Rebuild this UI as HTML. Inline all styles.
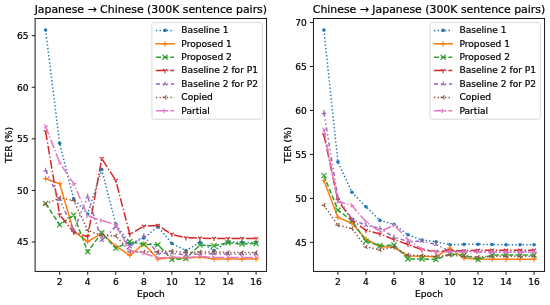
<!DOCTYPE html>
<html lang="en"><head><meta charset="utf-8"><title>TER vs Epoch</title>
<style>html,body{margin:0;padding:0;background:#fff}body{width:550px;height:305px;overflow:hidden}svg{display:block}text{font-family:"DejaVu Sans","Liberation Sans",sans-serif;stroke:#000;stroke-width:.22px}</style>
</head><body>
<svg width="550" height="305" viewBox="0 0 550 305" font-family="'DejaVu Sans', 'Liberation Sans', sans-serif" fill="#000" stroke-linejoin="round">
<rect width="550" height="305" fill="#fff"/>
<g>
<clipPath id="cL"><rect x="35.1" y="18.5" width="231.5" height="252.9"/></clipPath>
<g clip-path="url(#cL)">
<path d="M45.62 30.03L59.65 143.37L73.68 198.9L87.71 214.03L101.74 169.6L115.77 224.11L129.8 243.86L143.83 237.99L157.87 226.68L171.9 243.45L185.93 250.54L199.96 242.31L213.99 250.54L228.02 242L242.05 242.31L256.08 242.62" fill="none" stroke="#1f77b4" stroke-width="1.5" stroke-linejoin="round" stroke-linecap="butt" stroke-dasharray="1.36,2.25"/>
<circle cx="45.62" cy="30.03" r="1.8" fill="#1f77b4"/>
<circle cx="59.65" cy="143.37" r="1.8" fill="#1f77b4"/>
<circle cx="73.68" cy="198.9" r="1.8" fill="#1f77b4"/>
<circle cx="87.71" cy="214.03" r="1.8" fill="#1f77b4"/>
<circle cx="101.74" cy="169.6" r="1.8" fill="#1f77b4"/>
<circle cx="115.77" cy="224.11" r="1.8" fill="#1f77b4"/>
<circle cx="129.8" cy="243.86" r="1.8" fill="#1f77b4"/>
<circle cx="143.83" cy="237.99" r="1.8" fill="#1f77b4"/>
<circle cx="157.87" cy="226.68" r="1.8" fill="#1f77b4"/>
<circle cx="171.9" cy="243.45" r="1.8" fill="#1f77b4"/>
<circle cx="185.93" cy="250.54" r="1.8" fill="#1f77b4"/>
<circle cx="199.96" cy="242.31" r="1.8" fill="#1f77b4"/>
<circle cx="213.99" cy="250.54" r="1.8" fill="#1f77b4"/>
<circle cx="228.02" cy="242" r="1.8" fill="#1f77b4"/>
<circle cx="242.05" cy="242.31" r="1.8" fill="#1f77b4"/>
<circle cx="256.08" cy="242.62" r="1.8" fill="#1f77b4"/>
<path d="M45.62 178.55L59.65 183.68L73.68 231.3L87.71 241.59L101.74 233.37L115.77 246.22L129.8 255.48L143.83 243.65L157.87 259.08L171.9 257.64L185.93 258.25L199.96 257.02L213.99 259.08L228.02 259.08L242.05 259.08L256.08 259.08" fill="none" stroke="#ff7f0e" stroke-width="1.5" stroke-linejoin="round" stroke-linecap="square"/>
<path d="M43.02 178.55H48.22M45.62 175.95V181.15M57.05 183.68H62.25M59.65 181.08V186.28M71.08 231.3H76.28M73.68 228.7V233.9M85.11 241.59H90.31M87.71 238.99V244.19M99.14 233.37H104.34M101.74 230.77V235.97M113.17 246.22H118.37M115.77 243.62V248.82M127.2 255.48H132.4M129.8 252.88V258.08M141.23 243.65H146.43M143.83 241.05V246.25M155.27 259.08H160.47M157.87 256.48V261.68M169.3 257.64H174.5M171.9 255.04V260.24M183.33 258.25H188.53M185.93 255.65V260.85M197.36 257.02H202.56M199.96 254.42V259.62M211.39 259.08H216.59M213.99 256.48V261.68M225.42 259.08H230.62M228.02 256.48V261.68M239.45 259.08H244.65M242.05 256.48V261.68M253.48 259.08H258.68M256.08 256.48V261.68" fill="none" stroke="#ff7f0e" stroke-width="1.15" stroke-linecap="butt"/>
<path d="M45.62 203.54L59.65 224.73L73.68 215.05L87.71 251.67L101.74 232.75L115.77 248.28L129.8 241.59L143.83 244.47L157.87 244.68L171.9 259.6L185.93 258.56L199.96 244.99L213.99 245.81L228.02 242.83L242.05 244.06L256.08 243.45" fill="none" stroke="#2ca02c" stroke-width="1.5" stroke-linejoin="round" stroke-linecap="butt" stroke-dasharray="5.04,2.18"/>
<path d="M43.02 200.94L48.22 206.14M43.02 206.14L48.22 200.94M57.05 222.13L62.25 227.33M57.05 227.33L62.25 222.13M71.08 212.45L76.28 217.65M71.08 217.65L76.28 212.45M85.11 249.07L90.31 254.27M85.11 254.27L90.31 249.07M99.14 230.15L104.34 235.35M99.14 235.35L104.34 230.15M113.17 245.68L118.37 250.88M113.17 250.88L118.37 245.68M127.2 238.99L132.4 244.19M127.2 244.19L132.4 238.99M141.23 241.87L146.43 247.07M141.23 247.07L146.43 241.87M155.27 242.08L160.47 247.28M155.27 247.28L160.47 242.08M169.3 257L174.5 262.2M169.3 262.2L174.5 257M183.33 255.96L188.53 261.16M183.33 261.16L188.53 255.96M197.36 242.39L202.56 247.59M197.36 247.59L202.56 242.39M211.39 243.21L216.59 248.41M211.39 248.41L216.59 243.21M225.42 240.23L230.62 245.43M225.42 245.43L230.62 240.23M239.45 241.46L244.65 246.66M239.45 246.66L244.65 241.46M253.48 240.85L258.68 246.05M253.48 246.05L258.68 240.85" fill="none" stroke="#2ca02c" stroke-width="1.15" stroke-linecap="butt"/>
<path d="M45.62 131.54L59.65 214.86L73.68 232.34L87.71 236.66L101.74 158.49L115.77 180.4L129.8 234.39L143.83 226.16L157.87 225.34L171.9 234.39L185.93 237.78L199.96 238.09L213.99 238.51L228.02 238.51L242.05 238.51L256.08 238.51" fill="none" stroke="#d62728" stroke-width="1.5" stroke-linejoin="round" stroke-linecap="butt" stroke-dasharray="8.72,2.18,1.36,2.18"/>
<path d="M45.62 131.54V134.14M45.62 131.54L47.7 130.24M45.62 131.54L43.54 130.24M59.65 214.86V217.46M59.65 214.86L61.73 213.56M59.65 214.86L57.57 213.56M73.68 232.34V234.94M73.68 232.34L75.76 231.04M73.68 232.34L71.6 231.04M87.71 236.66V239.26M87.71 236.66L89.79 235.36M87.71 236.66L85.63 235.36M101.74 158.49V161.09M101.74 158.49L103.82 157.19M101.74 158.49L99.66 157.19M115.77 180.4V183M115.77 180.4L117.85 179.1M115.77 180.4L113.69 179.1M129.8 234.39V236.99M129.8 234.39L131.88 233.09M129.8 234.39L127.72 233.09M143.83 226.16V228.76M143.83 226.16L145.91 224.86M143.83 226.16L141.75 224.86M157.87 225.34V227.94M157.87 225.34L159.95 224.04M157.87 225.34L155.79 224.04M171.9 234.39V236.99M171.9 234.39L173.98 233.09M171.9 234.39L169.82 233.09M185.93 237.78V240.38M185.93 237.78L188.01 236.48M185.93 237.78L183.85 236.48M199.96 238.09V240.69M199.96 238.09L202.04 236.79M199.96 238.09L197.88 236.79M213.99 238.51V241.11M213.99 238.51L216.07 237.21M213.99 238.51L211.91 237.21M228.02 238.51V241.11M228.02 238.51L230.1 237.21M228.02 238.51L225.94 237.21M242.05 238.51V241.11M242.05 238.51L244.13 237.21M242.05 238.51L239.97 237.21M256.08 238.51V241.11M256.08 238.51L258.16 237.21M256.08 238.51L254 237.21" fill="none" stroke="#d62728" stroke-width="1.15" stroke-linecap="butt"/>
<path d="M45.62 170.31L59.65 199.42L73.68 230.49L87.71 196.33L101.74 240.36L115.77 226.68L129.8 246.74L143.83 235.73L157.87 253.43L171.9 253.12L185.93 254.86L199.96 253.74L213.99 253.74L228.02 254.14L242.05 254.14L256.08 254.14" fill="none" stroke="#9467bd" stroke-width="1.5" stroke-linejoin="round" stroke-linecap="butt" stroke-dasharray="4.09,2.73,1.36,2.73,1.36,2.73"/>
<path d="M45.62 170.31V167.71M45.62 170.31L47.7 171.61M45.62 170.31L43.54 171.61M59.65 199.42V196.82M59.65 199.42L61.73 200.72M59.65 199.42L57.57 200.72M73.68 230.49V227.89M73.68 230.49L75.76 231.79M73.68 230.49L71.6 231.79M87.71 196.33V193.73M87.71 196.33L89.79 197.63M87.71 196.33L85.63 197.63M101.74 240.36V237.76M101.74 240.36L103.82 241.66M101.74 240.36L99.66 241.66M115.77 226.68V224.08M115.77 226.68L117.85 227.98M115.77 226.68L113.69 227.98M129.8 246.74V244.14M129.8 246.74L131.88 248.04M129.8 246.74L127.72 248.04M143.83 235.73V233.13M143.83 235.73L145.91 237.03M143.83 235.73L141.75 237.03M157.87 253.43V250.83M157.87 253.43L159.95 254.73M157.87 253.43L155.79 254.73M171.9 253.12V250.52M171.9 253.12L173.98 254.42M171.9 253.12L169.82 254.42M185.93 254.86V252.26M185.93 254.86L188.01 256.16M185.93 254.86L183.85 256.16M199.96 253.74V251.14M199.96 253.74L202.04 255.04M199.96 253.74L197.88 255.04M213.99 253.74V251.14M213.99 253.74L216.07 255.04M213.99 253.74L211.91 255.04M228.02 254.14V251.54M228.02 254.14L230.1 255.44M228.02 254.14L225.94 255.44M242.05 254.14V251.54M242.05 254.14L244.13 255.44M242.05 254.14L239.97 255.44M256.08 254.14V251.54M256.08 254.14L258.16 255.44M256.08 254.14L254 255.44" fill="none" stroke="#9467bd" stroke-width="1.15" stroke-linecap="butt"/>
<path d="M45.62 204.05L59.65 197.88L73.68 200.45L87.71 230.28L101.74 235.73L115.77 235.73L129.8 251.36L143.83 251.98L157.87 251.57L171.9 251.05L185.93 252.6L199.96 251.98L213.99 251.98L228.02 252.6L242.05 252.6L256.08 252.6" fill="none" stroke="#8c564b" stroke-width="1.5" stroke-linejoin="round" stroke-linecap="butt" stroke-dasharray="1.36,2.25"/>
<path d="M45.62 204.05H43.02M45.62 204.05L46.92 206.13M45.62 204.05L46.92 201.97M59.65 197.88H57.05M59.65 197.88L60.95 199.96M59.65 197.88L60.95 195.8M73.68 200.45H71.08M73.68 200.45L74.98 202.53M73.68 200.45L74.98 198.37M87.71 230.28H85.11M87.71 230.28L89.01 232.36M87.71 230.28L89.01 228.2M101.74 235.73H99.14M101.74 235.73L103.04 237.81M101.74 235.73L103.04 233.65M115.77 235.73H113.17M115.77 235.73L117.07 237.81M115.77 235.73L117.07 233.65M129.8 251.36H127.2M129.8 251.36L131.1 253.44M129.8 251.36L131.1 249.28M143.83 251.98H141.23M143.83 251.98L145.13 254.06M143.83 251.98L145.13 249.9M157.87 251.57H155.27M157.87 251.57L159.17 253.65M157.87 251.57L159.17 249.49M171.9 251.05H169.3M171.9 251.05L173.2 253.13M171.9 251.05L173.2 248.97M185.93 252.6H183.33M185.93 252.6L187.23 254.68M185.93 252.6L187.23 250.52M199.96 251.98H197.36M199.96 251.98L201.26 254.06M199.96 251.98L201.26 249.9M213.99 251.98H211.39M213.99 251.98L215.29 254.06M213.99 251.98L215.29 249.9M228.02 252.6H225.42M228.02 252.6L229.32 254.68M228.02 252.6L229.32 250.52M242.05 252.6H239.45M242.05 252.6L243.35 254.68M242.05 252.6L243.35 250.52M256.08 252.6H253.48M256.08 252.6L257.38 254.68M256.08 252.6L257.38 250.52" fill="none" stroke="#8c564b" stroke-width="1.15" stroke-linecap="butt"/>
<path d="M45.62 126.4L59.65 162.71L73.68 183.68L87.71 215.88L101.74 220.51L115.77 224.62L129.8 250.85L143.83 253.22L157.87 258.05L171.9 257.02L185.93 257.74L199.96 256.41L213.99 257.43L228.02 257.43L242.05 257.43L256.08 257.43" fill="none" stroke="#e377c2" stroke-width="1.5" stroke-linejoin="round" stroke-linecap="butt" stroke-dasharray="8.72,2.18,1.36,2.18"/>
<path d="M45.62 126.4H48.22M45.62 126.4L44.32 128.48M45.62 126.4L44.32 124.32M59.65 162.71H62.25M59.65 162.71L58.35 164.79M59.65 162.71L58.35 160.63M73.68 183.68H76.28M73.68 183.68L72.38 185.76M73.68 183.68L72.38 181.6M87.71 215.88H90.31M87.71 215.88L86.41 217.96M87.71 215.88L86.41 213.8M101.74 220.51H104.34M101.74 220.51L100.44 222.59M101.74 220.51L100.44 218.43M115.77 224.62H118.37M115.77 224.62L114.47 226.7M115.77 224.62L114.47 222.54M129.8 250.85H132.4M129.8 250.85L128.5 252.93M129.8 250.85L128.5 248.77M143.83 253.22H146.43M143.83 253.22L142.53 255.3M143.83 253.22L142.53 251.14M157.87 258.05H160.47M157.87 258.05L156.57 260.13M157.87 258.05L156.57 255.97M171.9 257.02H174.5M171.9 257.02L170.6 259.1M171.9 257.02L170.6 254.94M185.93 257.74H188.53M185.93 257.74L184.63 259.82M185.93 257.74L184.63 255.66M199.96 256.41H202.56M199.96 256.41L198.66 258.49M199.96 256.41L198.66 254.33M213.99 257.43H216.59M213.99 257.43L212.69 259.51M213.99 257.43L212.69 255.35M228.02 257.43H230.62M228.02 257.43L226.72 259.51M228.02 257.43L226.72 255.35M242.05 257.43H244.65M242.05 257.43L240.75 259.51M242.05 257.43L240.75 255.35M256.08 257.43H258.68M256.08 257.43L254.78 259.51M256.08 257.43L254.78 255.35" fill="none" stroke="#e377c2" stroke-width="1.15" stroke-linecap="butt"/>
</g>
<path d="M59.65 271.4v3.4M87.71 271.4v3.4M115.77 271.4v3.4M143.83 271.4v3.4M171.9 271.4v3.4M199.96 271.4v3.4M228.02 271.4v3.4M256.08 271.4v3.4M35.1 241.99h-3.4M35.1 190.4h-3.4M35.1 138.81h-3.4M35.1 87.22h-3.4M35.1 35.63h-3.4" stroke="#000" stroke-width="0.9" fill="none"/>
<rect x="35.1" y="18.5" width="231.5" height="252.9" fill="none" stroke="#000" stroke-width="0.9" stroke-linejoin="miter"/>
<text x="59.65" y="285.1" text-anchor="middle" font-size="9.08">2</text>
<text x="87.71" y="285.1" text-anchor="middle" font-size="9.08">4</text>
<text x="115.77" y="285.1" text-anchor="middle" font-size="9.08">6</text>
<text x="143.83" y="285.1" text-anchor="middle" font-size="9.08">8</text>
<text x="171.9" y="285.1" text-anchor="middle" font-size="9.08">10</text>
<text x="199.96" y="285.1" text-anchor="middle" font-size="9.08">12</text>
<text x="228.02" y="285.1" text-anchor="middle" font-size="9.08">14</text>
<text x="256.08" y="285.1" text-anchor="middle" font-size="9.08">16</text>
<text x="28.45" y="245.3" text-anchor="end" font-size="9.08">45</text>
<text x="28.45" y="193.71" text-anchor="end" font-size="9.08">50</text>
<text x="28.45" y="142.12" text-anchor="end" font-size="9.08">55</text>
<text x="28.45" y="90.53" text-anchor="end" font-size="9.08">60</text>
<text x="28.45" y="38.94" text-anchor="end" font-size="9.08">65</text>
<text x="150.85" y="297.4" text-anchor="middle" font-size="9.08">Epoch</text>
<text transform="translate(12.3 144.95) rotate(-90)" text-anchor="middle" font-size="9.08">TER (%)</text>
<text x="150.85" y="12.5" text-anchor="middle" font-size="10.9">Japanese → Chinese (300K sentence pairs)</text>
<rect x="151.9" y="22.6" width="110.5" height="96.6" rx="1.82" fill="#fff" fill-opacity="0.8" stroke="#ccc" stroke-opacity="0.8" stroke-width="0.91"/>
<path d="M155.93 30.4H174.1" fill="none" stroke="#1f77b4" stroke-width="1.5" stroke-dasharray="1.36,2.25" stroke-linecap="butt"/>
<circle cx="165.02" cy="30.4" r="1.8" fill="#1f77b4"/>
<text x="181.37" y="33.28" font-size="9.08">Baseline 1</text>
<path d="M155.93 43.8H174.1" fill="none" stroke="#ff7f0e" stroke-width="1.5" stroke-linecap="square"/>
<path d="M162.42 43.8H167.62M165.02 41.2V46.4" fill="none" stroke="#ff7f0e" stroke-width="1.15"/>
<text x="181.37" y="46.68" font-size="9.08">Proposed 1</text>
<path d="M155.93 57.2H174.1" fill="none" stroke="#2ca02c" stroke-width="1.5" stroke-dasharray="5.04,2.18" stroke-linecap="butt"/>
<path d="M162.42 54.6L167.62 59.8M162.42 59.8L167.62 54.6" fill="none" stroke="#2ca02c" stroke-width="1.15"/>
<text x="181.37" y="60.08" font-size="9.08">Proposed 2</text>
<path d="M155.93 70.6H174.1" fill="none" stroke="#d62728" stroke-width="1.5" stroke-dasharray="8.72,2.18,1.36,2.18" stroke-linecap="butt"/>
<path d="M165.02 70.6V73.2M165.02 70.6L167.1 69.3M165.02 70.6L162.94 69.3" fill="none" stroke="#d62728" stroke-width="1.15"/>
<text x="181.37" y="73.48" font-size="9.08">Baseline 2 for P1</text>
<path d="M155.93 84H174.1" fill="none" stroke="#9467bd" stroke-width="1.5" stroke-dasharray="4.09,2.73,1.36,2.73,1.36,2.73" stroke-linecap="butt"/>
<path d="M165.02 84V81.4M165.02 84L167.1 85.3M165.02 84L162.94 85.3" fill="none" stroke="#9467bd" stroke-width="1.15"/>
<text x="181.37" y="86.88" font-size="9.08">Baseline 2 for P2</text>
<path d="M155.93 97.4H174.1" fill="none" stroke="#8c564b" stroke-width="1.5" stroke-dasharray="1.36,2.25" stroke-linecap="butt"/>
<path d="M165.02 97.4H162.42M165.02 97.4L166.32 99.48M165.02 97.4L166.32 95.32" fill="none" stroke="#8c564b" stroke-width="1.15"/>
<text x="181.37" y="100.28" font-size="9.08">Copied</text>
<path d="M155.93 110.8H174.1" fill="none" stroke="#e377c2" stroke-width="1.5" stroke-dasharray="8.72,2.18,1.36,2.18" stroke-linecap="butt"/>
<path d="M165.02 110.8H167.62M165.02 110.8L163.72 112.88M165.02 110.8L163.72 108.72" fill="none" stroke="#e377c2" stroke-width="1.15"/>
<text x="181.37" y="113.68" font-size="9.08">Partial</text>
</g>
<g>
<clipPath id="cR"><rect x="313.4" y="18.5" width="231.2" height="252.9"/></clipPath>
<g clip-path="url(#cR)">
<path d="M323.91 30.05L337.92 161.91L351.93 192.27L365.95 206.74L379.96 220.42L393.97 224.39L407.98 234.81L421.99 239.93L436.01 241.87L450.02 244.69L464.03 244.34L478.04 244.34L492.05 244.52L506.07 244.78L520.08 244.78L534.09 244.78" fill="none" stroke="#1f77b4" stroke-width="1.5" stroke-linejoin="round" stroke-linecap="butt" stroke-dasharray="1.36,2.25"/>
<circle cx="323.91" cy="30.05" r="1.8" fill="#1f77b4"/>
<circle cx="337.92" cy="161.91" r="1.8" fill="#1f77b4"/>
<circle cx="351.93" cy="192.27" r="1.8" fill="#1f77b4"/>
<circle cx="365.95" cy="206.74" r="1.8" fill="#1f77b4"/>
<circle cx="379.96" cy="220.42" r="1.8" fill="#1f77b4"/>
<circle cx="393.97" cy="224.39" r="1.8" fill="#1f77b4"/>
<circle cx="407.98" cy="234.81" r="1.8" fill="#1f77b4"/>
<circle cx="421.99" cy="239.93" r="1.8" fill="#1f77b4"/>
<circle cx="436.01" cy="241.87" r="1.8" fill="#1f77b4"/>
<circle cx="450.02" cy="244.69" r="1.8" fill="#1f77b4"/>
<circle cx="464.03" cy="244.34" r="1.8" fill="#1f77b4"/>
<circle cx="478.04" cy="244.34" r="1.8" fill="#1f77b4"/>
<circle cx="492.05" cy="244.52" r="1.8" fill="#1f77b4"/>
<circle cx="506.07" cy="244.78" r="1.8" fill="#1f77b4"/>
<circle cx="520.08" cy="244.78" r="1.8" fill="#1f77b4"/>
<circle cx="534.09" cy="244.78" r="1.8" fill="#1f77b4"/>
<path d="M323.91 180.7L337.92 217.33L351.93 223.25L365.95 239.22L379.96 246.45L393.97 247.17L407.98 255.99L421.99 256.34L436.01 256.87L450.02 248.04L464.03 258.19L478.04 258.9L492.05 259.17L506.07 259.34L520.08 259.34L534.09 259.34" fill="none" stroke="#ff7f0e" stroke-width="1.5" stroke-linejoin="round" stroke-linecap="square"/>
<path d="M321.31 180.7H326.51M323.91 178.1V183.3M335.32 217.33H340.52M337.92 214.73V219.93M349.33 223.25H354.53M351.93 220.65V225.85M363.35 239.22H368.55M365.95 236.62V241.82M377.36 246.45H382.56M379.96 243.85V249.05M391.37 247.17H396.57M393.97 244.57V249.77M405.38 255.99H410.58M407.98 253.39V258.59M419.39 256.34H424.59M421.99 253.74V258.94M433.41 256.87H438.61M436.01 254.27V259.47M447.42 248.04H452.62M450.02 245.44V250.64M461.43 258.19H466.63M464.03 255.59V260.79M475.44 258.9H480.64M478.04 256.3V261.5M489.45 259.17H494.65M492.05 256.57V261.77M503.47 259.34H508.67M506.07 256.74V261.94M517.48 259.34H522.68M520.08 256.74V261.94M531.49 259.34H536.69M534.09 256.74V261.94" fill="none" stroke="#ff7f0e" stroke-width="1.15" stroke-linecap="butt"/>
<path d="M323.91 175.5L337.92 210.09L351.93 220.69L365.95 241.16L379.96 245.84L393.97 245.13L407.98 258.9L421.99 258.9L436.01 259.52L450.02 253.78L464.03 255.11L478.04 259.52L492.05 255.11L506.07 255.02L520.08 255.02L534.09 255.02" fill="none" stroke="#2ca02c" stroke-width="1.5" stroke-linejoin="round" stroke-linecap="butt" stroke-dasharray="5.04,2.18"/>
<path d="M321.31 172.9L326.51 178.1M321.31 178.1L326.51 172.9M335.32 207.49L340.52 212.69M335.32 212.69L340.52 207.49M349.33 218.09L354.53 223.29M349.33 223.29L354.53 218.09M363.35 238.56L368.55 243.76M363.35 243.76L368.55 238.56M377.36 243.24L382.56 248.44M377.36 248.44L382.56 243.24M391.37 242.53L396.57 247.73M391.37 247.73L396.57 242.53M405.38 256.3L410.58 261.5M405.38 261.5L410.58 256.3M419.39 256.3L424.59 261.5M419.39 261.5L424.59 256.3M433.41 256.92L438.61 262.12M433.41 262.12L438.61 256.92M447.42 251.18L452.62 256.38M447.42 256.38L452.62 251.18M461.43 252.51L466.63 257.71M461.43 257.71L466.63 252.51M475.44 256.92L480.64 262.12M475.44 262.12L480.64 256.92M489.45 252.51L494.65 257.71M489.45 257.71L494.65 252.51M503.47 252.42L508.67 257.62M503.47 257.62L508.67 252.42M517.48 252.42L522.68 257.62M517.48 257.62L522.68 252.42M531.49 252.42L536.69 257.62M531.49 257.62L536.69 252.42" fill="none" stroke="#2ca02c" stroke-width="1.15" stroke-linecap="butt"/>
<path d="M323.91 134.73L337.92 200.38L351.93 219.8L365.95 230.4L379.96 233.92L393.97 239.58L407.98 244.52L421.99 249.81L436.01 251.58L450.02 250.69L464.03 250.69L478.04 250.25L492.05 250.16L506.07 250.16L520.08 250.16L534.09 250.16" fill="none" stroke="#d62728" stroke-width="1.5" stroke-linejoin="round" stroke-linecap="butt" stroke-dasharray="8.72,2.18,1.36,2.18"/>
<path d="M323.91 134.73V137.33M323.91 134.73L325.99 133.43M323.91 134.73L321.83 133.43M337.92 200.38V202.98M337.92 200.38L340 199.08M337.92 200.38L335.84 199.08M351.93 219.8V222.4M351.93 219.8L354.01 218.5M351.93 219.8L349.85 218.5M365.95 230.4V233M365.95 230.4L368.03 229.1M365.95 230.4L363.87 229.1M379.96 233.92V236.52M379.96 233.92L382.04 232.62M379.96 233.92L377.88 232.62M393.97 239.58V242.18M393.97 239.58L396.05 238.28M393.97 239.58L391.89 238.28M407.98 244.52V247.12M407.98 244.52L410.06 243.22M407.98 244.52L405.9 243.22M421.99 249.81V252.41M421.99 249.81L424.07 248.51M421.99 249.81L419.91 248.51M436.01 251.58V254.18M436.01 251.58L438.09 250.28M436.01 251.58L433.93 250.28M450.02 250.69V253.29M450.02 250.69L452.1 249.39M450.02 250.69L447.94 249.39M464.03 250.69V253.29M464.03 250.69L466.11 249.39M464.03 250.69L461.95 249.39M478.04 250.25V252.85M478.04 250.25L480.12 248.95M478.04 250.25L475.96 248.95M492.05 250.16V252.76M492.05 250.16L494.13 248.86M492.05 250.16L489.97 248.86M506.07 250.16V252.76M506.07 250.16L508.15 248.86M506.07 250.16L503.99 248.86M520.08 250.16V252.76M520.08 250.16L522.16 248.86M520.08 250.16L518 248.86M534.09 250.16V252.76M534.09 250.16L536.17 248.86M534.09 250.16L532.01 248.86" fill="none" stroke="#d62728" stroke-width="1.15" stroke-linecap="butt"/>
<path d="M323.91 112.66L337.92 197.56L351.93 219.27L365.95 225.37L379.96 228.36L393.97 237.19L407.98 241.42L421.99 241.25L436.01 244.52L450.02 251.13L464.03 251.58L478.04 251.58L492.05 252.02L506.07 252.02L520.08 252.02L534.09 252.02" fill="none" stroke="#9467bd" stroke-width="1.5" stroke-linejoin="round" stroke-linecap="butt" stroke-dasharray="4.09,2.73,1.36,2.73,1.36,2.73"/>
<path d="M323.91 112.66V110.06M323.91 112.66L325.99 113.96M323.91 112.66L321.83 113.96M337.92 197.56V194.96M337.92 197.56L340 198.86M337.92 197.56L335.84 198.86M351.93 219.27V216.67M351.93 219.27L354.01 220.57M351.93 219.27L349.85 220.57M365.95 225.37V222.77M365.95 225.37L368.03 226.67M365.95 225.37L363.87 226.67M379.96 228.36V225.76M379.96 228.36L382.04 229.66M379.96 228.36L377.88 229.66M393.97 237.19V234.59M393.97 237.19L396.05 238.49M393.97 237.19L391.89 238.49M407.98 241.42V238.82M407.98 241.42L410.06 242.72M407.98 241.42L405.9 242.72M421.99 241.25V238.65M421.99 241.25L424.07 242.55M421.99 241.25L419.91 242.55M436.01 244.52V241.92M436.01 244.52L438.09 245.82M436.01 244.52L433.93 245.82M450.02 251.13V248.53M450.02 251.13L452.1 252.43M450.02 251.13L447.94 252.43M464.03 251.58V248.98M464.03 251.58L466.11 252.88M464.03 251.58L461.95 252.88M478.04 251.58V248.98M478.04 251.58L480.12 252.88M478.04 251.58L475.96 252.88M492.05 252.02V249.42M492.05 252.02L494.13 253.32M492.05 252.02L489.97 253.32M506.07 252.02V249.42M506.07 252.02L508.15 253.32M506.07 252.02L503.99 253.32M520.08 252.02V249.42M520.08 252.02L522.16 253.32M520.08 252.02L518 253.32M534.09 252.02V249.42M534.09 252.02L536.17 253.32M534.09 252.02L532.01 253.32" fill="none" stroke="#9467bd" stroke-width="1.15" stroke-linecap="butt"/>
<path d="M323.91 205.24L337.92 225.19L351.93 228.45L365.95 246.99L379.96 249.81L393.97 247.17L407.98 255.11L421.99 255.63L436.01 256.34L450.02 255.28L464.03 256.34L478.04 256.87L492.05 256.34L506.07 256.34L520.08 256.34L534.09 256.34" fill="none" stroke="#8c564b" stroke-width="1.5" stroke-linejoin="round" stroke-linecap="butt" stroke-dasharray="1.36,2.25"/>
<path d="M323.91 205.24H321.31M323.91 205.24L325.21 207.32M323.91 205.24L325.21 203.16M337.92 225.19H335.32M337.92 225.19L339.22 227.27M337.92 225.19L339.22 223.11M351.93 228.45H349.33M351.93 228.45L353.23 230.53M351.93 228.45L353.23 226.37M365.95 246.99H363.35M365.95 246.99L367.25 249.07M365.95 246.99L367.25 244.91M379.96 249.81H377.36M379.96 249.81L381.26 251.89M379.96 249.81L381.26 247.73M393.97 247.17H391.37M393.97 247.17L395.27 249.25M393.97 247.17L395.27 245.09M407.98 255.11H405.38M407.98 255.11L409.28 257.19M407.98 255.11L409.28 253.03M421.99 255.63H419.39M421.99 255.63L423.29 257.71M421.99 255.63L423.29 253.55M436.01 256.34H433.41M436.01 256.34L437.31 258.42M436.01 256.34L437.31 254.26M450.02 255.28H447.42M450.02 255.28L451.32 257.36M450.02 255.28L451.32 253.2M464.03 256.34H461.43M464.03 256.34L465.33 258.42M464.03 256.34L465.33 254.26M478.04 256.87H475.44M478.04 256.87L479.34 258.95M478.04 256.87L479.34 254.79M492.05 256.34H489.45M492.05 256.34L493.35 258.42M492.05 256.34L493.35 254.26M506.07 256.34H503.47M506.07 256.34L507.37 258.42M506.07 256.34L507.37 254.26M520.08 256.34H517.48M520.08 256.34L521.38 258.42M520.08 256.34L521.38 254.26M534.09 256.34H531.49M534.09 256.34L535.39 258.42M534.09 256.34L535.39 254.26" fill="none" stroke="#8c564b" stroke-width="1.15" stroke-linecap="butt"/>
<path d="M323.91 129.61L337.92 201.54L351.93 205.41L365.95 221.83L379.96 231.72L393.97 225.1L407.98 239.75L421.99 249.1L436.01 251.76L450.02 251.76L464.03 252.02L478.04 252.02L492.05 252.02L506.07 252.02L520.08 252.02L534.09 252.02" fill="none" stroke="#e377c2" stroke-width="1.5" stroke-linejoin="round" stroke-linecap="butt" stroke-dasharray="8.72,2.18,1.36,2.18"/>
<path d="M323.91 129.61H326.51M323.91 129.61L322.61 131.69M323.91 129.61L322.61 127.53M337.92 201.54H340.52M337.92 201.54L336.62 203.62M337.92 201.54L336.62 199.46M351.93 205.41H354.53M351.93 205.41L350.63 207.49M351.93 205.41L350.63 203.33M365.95 221.83H368.55M365.95 221.83L364.65 223.91M365.95 221.83L364.65 219.75M379.96 231.72H382.56M379.96 231.72L378.66 233.8M379.96 231.72L378.66 229.64M393.97 225.1H396.57M393.97 225.1L392.67 227.18M393.97 225.1L392.67 223.02M407.98 239.75H410.58M407.98 239.75L406.68 241.83M407.98 239.75L406.68 237.67M421.99 249.1H424.59M421.99 249.1L420.69 251.18M421.99 249.1L420.69 247.02M436.01 251.76H438.61M436.01 251.76L434.71 253.84M436.01 251.76L434.71 249.68M450.02 251.76H452.62M450.02 251.76L448.72 253.84M450.02 251.76L448.72 249.68M464.03 252.02H466.63M464.03 252.02L462.73 254.1M464.03 252.02L462.73 249.94M478.04 252.02H480.64M478.04 252.02L476.74 254.1M478.04 252.02L476.74 249.94M492.05 252.02H494.65M492.05 252.02L490.75 254.1M492.05 252.02L490.75 249.94M506.07 252.02H508.67M506.07 252.02L504.77 254.1M506.07 252.02L504.77 249.94M520.08 252.02H522.68M520.08 252.02L518.78 254.1M520.08 252.02L518.78 249.94M534.09 252.02H536.69M534.09 252.02L532.79 254.1M534.09 252.02L532.79 249.94" fill="none" stroke="#e377c2" stroke-width="1.15" stroke-linecap="butt"/>
</g>
<path d="M337.92 271.4v3.4M365.95 271.4v3.4M393.97 271.4v3.4M421.99 271.4v3.4M450.02 271.4v3.4M478.04 271.4v3.4M506.07 271.4v3.4M534.09 271.4v3.4M313.4 242.38h-3.4M313.4 198.41h-3.4M313.4 154.45h-3.4M313.4 110.48h-3.4M313.4 66.51h-3.4M313.4 22.54h-3.4" stroke="#000" stroke-width="0.9" fill="none"/>
<rect x="313.4" y="18.5" width="231.2" height="252.9" fill="none" stroke="#000" stroke-width="0.9" stroke-linejoin="miter"/>
<text x="337.92" y="285.1" text-anchor="middle" font-size="9.08">2</text>
<text x="365.95" y="285.1" text-anchor="middle" font-size="9.08">4</text>
<text x="393.97" y="285.1" text-anchor="middle" font-size="9.08">6</text>
<text x="421.99" y="285.1" text-anchor="middle" font-size="9.08">8</text>
<text x="450.02" y="285.1" text-anchor="middle" font-size="9.08">10</text>
<text x="478.04" y="285.1" text-anchor="middle" font-size="9.08">12</text>
<text x="506.07" y="285.1" text-anchor="middle" font-size="9.08">14</text>
<text x="534.09" y="285.1" text-anchor="middle" font-size="9.08">16</text>
<text x="306.75" y="245.69" text-anchor="end" font-size="9.08">45</text>
<text x="306.75" y="201.73" text-anchor="end" font-size="9.08">50</text>
<text x="306.75" y="157.76" text-anchor="end" font-size="9.08">55</text>
<text x="306.75" y="113.79" text-anchor="end" font-size="9.08">60</text>
<text x="306.75" y="69.82" text-anchor="end" font-size="9.08">65</text>
<text x="306.75" y="25.86" text-anchor="end" font-size="9.08">70</text>
<text x="429" y="297.4" text-anchor="middle" font-size="9.08">Epoch</text>
<text transform="translate(290.7 144.95) rotate(-90)" text-anchor="middle" font-size="9.08">TER (%)</text>
<text x="429" y="12.5" text-anchor="middle" font-size="10.9">Chinese → Japanese (300K sentence pairs)</text>
<rect x="430" y="22.6" width="110.3" height="96.6" rx="1.82" fill="#fff" fill-opacity="0.8" stroke="#ccc" stroke-opacity="0.8" stroke-width="0.91"/>
<path d="M434.03 30.4H452.2" fill="none" stroke="#1f77b4" stroke-width="1.5" stroke-dasharray="1.36,2.25" stroke-linecap="butt"/>
<circle cx="443.12" cy="30.4" r="1.8" fill="#1f77b4"/>
<text x="459.47" y="33.28" font-size="9.08">Baseline 1</text>
<path d="M434.03 43.8H452.2" fill="none" stroke="#ff7f0e" stroke-width="1.5" stroke-linecap="square"/>
<path d="M440.52 43.8H445.72M443.12 41.2V46.4" fill="none" stroke="#ff7f0e" stroke-width="1.15"/>
<text x="459.47" y="46.68" font-size="9.08">Proposed 1</text>
<path d="M434.03 57.2H452.2" fill="none" stroke="#2ca02c" stroke-width="1.5" stroke-dasharray="5.04,2.18" stroke-linecap="butt"/>
<path d="M440.52 54.6L445.72 59.8M440.52 59.8L445.72 54.6" fill="none" stroke="#2ca02c" stroke-width="1.15"/>
<text x="459.47" y="60.08" font-size="9.08">Proposed 2</text>
<path d="M434.03 70.6H452.2" fill="none" stroke="#d62728" stroke-width="1.5" stroke-dasharray="8.72,2.18,1.36,2.18" stroke-linecap="butt"/>
<path d="M443.12 70.6V73.2M443.12 70.6L445.2 69.3M443.12 70.6L441.04 69.3" fill="none" stroke="#d62728" stroke-width="1.15"/>
<text x="459.47" y="73.48" font-size="9.08">Baseline 2 for P1</text>
<path d="M434.03 84H452.2" fill="none" stroke="#9467bd" stroke-width="1.5" stroke-dasharray="4.09,2.73,1.36,2.73,1.36,2.73" stroke-linecap="butt"/>
<path d="M443.12 84V81.4M443.12 84L445.2 85.3M443.12 84L441.04 85.3" fill="none" stroke="#9467bd" stroke-width="1.15"/>
<text x="459.47" y="86.88" font-size="9.08">Baseline 2 for P2</text>
<path d="M434.03 97.4H452.2" fill="none" stroke="#8c564b" stroke-width="1.5" stroke-dasharray="1.36,2.25" stroke-linecap="butt"/>
<path d="M443.12 97.4H440.52M443.12 97.4L444.42 99.48M443.12 97.4L444.42 95.32" fill="none" stroke="#8c564b" stroke-width="1.15"/>
<text x="459.47" y="100.28" font-size="9.08">Copied</text>
<path d="M434.03 110.8H452.2" fill="none" stroke="#e377c2" stroke-width="1.5" stroke-dasharray="8.72,2.18,1.36,2.18" stroke-linecap="butt"/>
<path d="M443.12 110.8H445.72M443.12 110.8L441.82 112.88M443.12 110.8L441.82 108.72" fill="none" stroke="#e377c2" stroke-width="1.15"/>
<text x="459.47" y="113.68" font-size="9.08">Partial</text>
</g>
</svg>
</body></html>
